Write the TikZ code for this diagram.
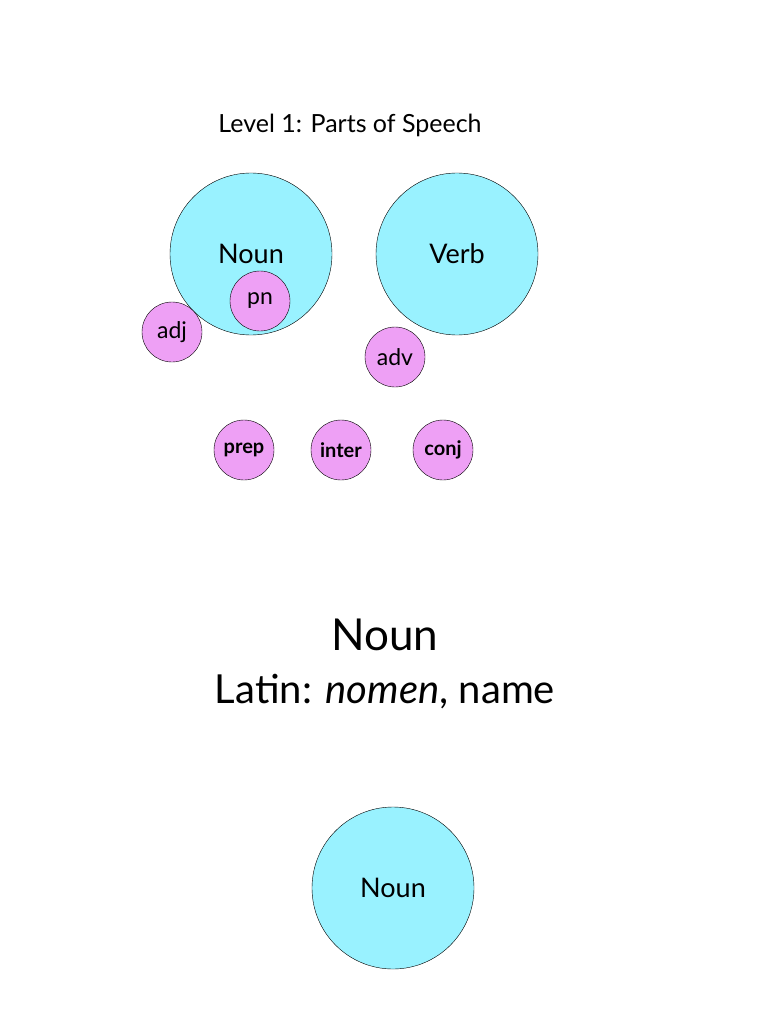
\documentclass[tikz,border=0pt]{standalone}
\usepackage{fontspec}
\setmainfont{Lato}
\definecolor{cy}{RGB}{153,242,255}
\definecolor{pk}{RGB}{238,160,245}
\begin{document}
\begin{tikzpicture}[x=1pt,y=-1pt,
 big/.style={circle,draw=black,fill=cy,minimum size=162pt,inner sep=0pt,font=\fontsize{27}{30}\selectfont},
 sm/.style={circle,draw=black,fill=pk,minimum size=60pt,inner sep=0pt,font=\fontsize{23}{26}\selectfont},
 smb/.style={sm,font=\fontsize{20}{24}\selectfont\bfseries}]
\useasboundingbox (0,0) rectangle (768,1024);
\node (title) at (350,125) {\fontsize{25}{30}\selectfont Level 1: Parts of Speech};
\node[big] (noun) at (251,254) {};
\node at (251,254) {\fontsize{27}{30}\selectfont Noun};
\node[big] (verb) at (457,254) {Verb};
\node[sm] (adj) at (172,332) {adj};
\node[sm] (pn) at (260,301) {pn};
\node[sm] (adv) at (395,357) {adv};
\node[smb] (prep) at (244,450) {prep};
\node[smb] (inter) at (341,450) {inter};
\node[smb] (conj) at (443,450) {conj};
\node (h1) at (385,635) {\fontsize{44}{50}\selectfont Noun};
\node (h2) at (385,692) {\fontsize{40}{48}\selectfont Latin: \textit{nomen}, name};
\node[big] (noun2) at (393,888) {Noun};
\end{tikzpicture}
\end{document}
